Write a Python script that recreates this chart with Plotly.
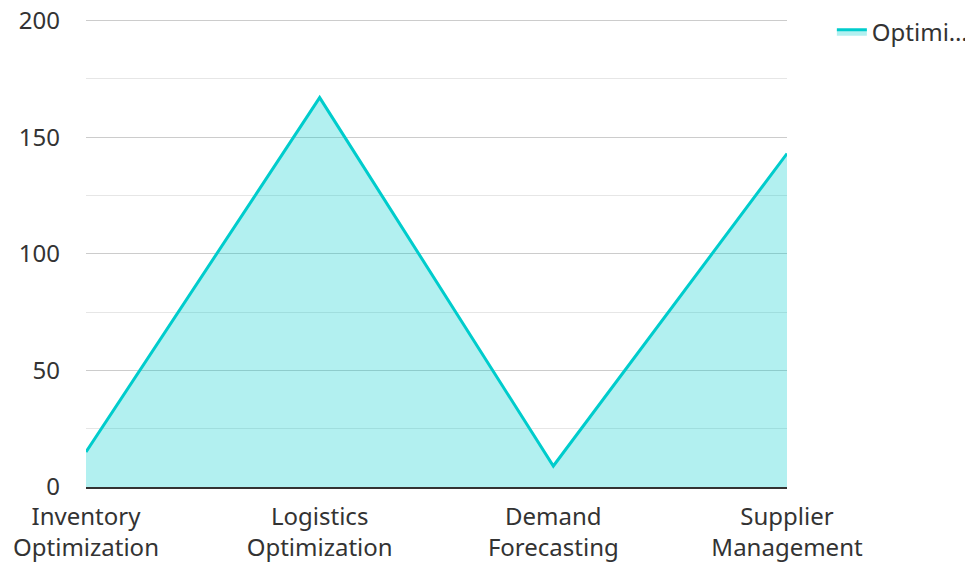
import plotly.graph_objects as go

categories = ["Inventory<br>Optimization", "Logistics<br>Optimization", "Demand<br>Forecasting", "Supplier<br>Management"]
values = [15, 167, 9, 143]
series_name = "Optimi…"
y_ticks = [0, 50, 100, 150, 200]

fig = go.Figure()
fig.add_trace(go.Scatter(
    x=list(range(len(categories))), y=values, name=series_name,
    mode="lines", fill="tozeroy",
    line=dict(color="#00CCCC", width=3),
    fillcolor="rgba(0,204,204,0.3)",
))
fig.update_layout(
    width=965, height=554,
    margin=dict(l=78, r=186, t=11, b=75, autoexpand=False),
    paper_bgcolor="white", plot_bgcolor="white",
    font=dict(family="Noto Sans", size=24, color="#333333"),
    showlegend=True,
    legend=dict(x=1.064, xanchor="left", y=1.02, yanchor="top",
                font=dict(size=24, color="#333333"), bgcolor="rgba(0,0,0,0)"),
    xaxis=dict(
        tickmode="array", tickvals=list(range(len(categories))), ticktext=categories,
        range=[0, len(categories) - 1], showgrid=False, zeroline=False,
        showline=True, linecolor="#333333", linewidth=2, ticks="", automargin=False,
        tickfont=dict(size=24, color="#333333"), ticklabelstandoff=7,
        ticklabeloverflow="allow",
    ),
    yaxis=dict(
        range=[0, 200.7], tickvals=y_ticks, showgrid=True, gridcolor="#cccccc", gridwidth=1,
        zeroline=False, showline=False, ticks="", automargin=False,
        tickfont=dict(size=24, color="#333333"), ticklabelstandoff=25,
        ticklabeloverflow="allow",
        minor=dict(dtick=25, showgrid=True, gridcolor="#e6e6e6", gridwidth=1),
    ),
)
fig.write_html("out.html")
